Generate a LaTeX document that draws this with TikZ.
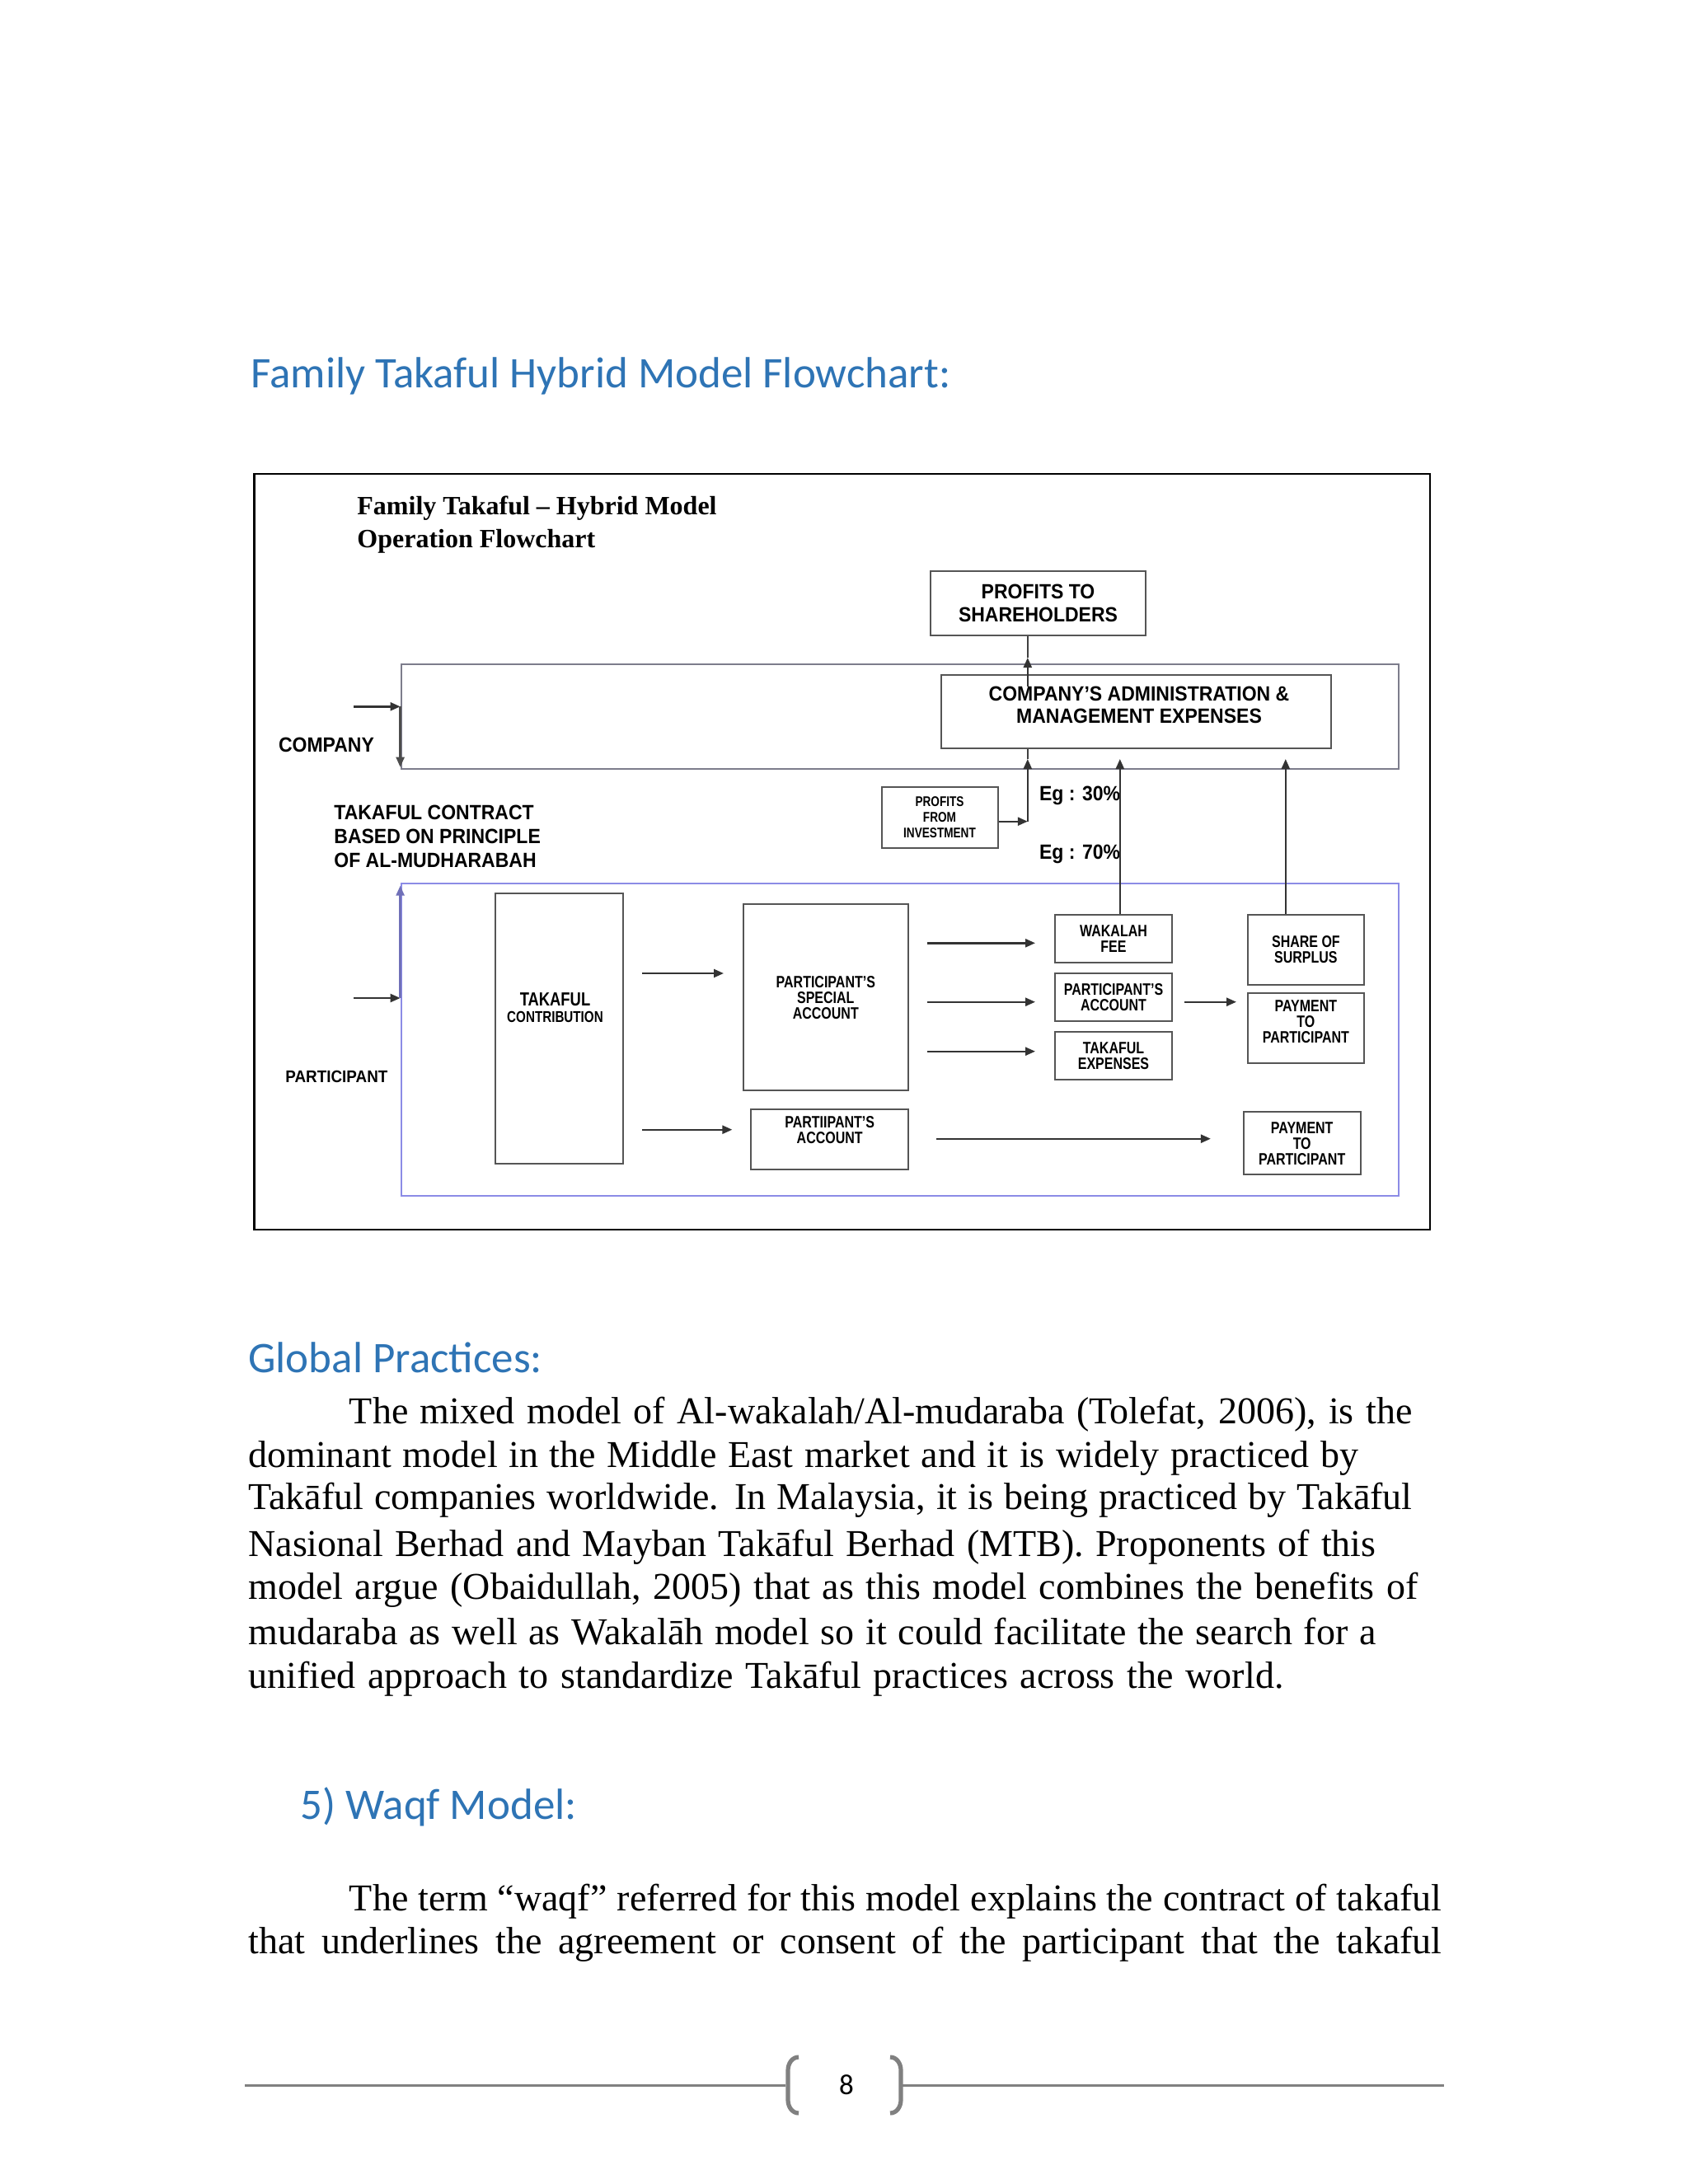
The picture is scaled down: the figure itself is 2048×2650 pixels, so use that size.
\documentclass[tikz,border=0pt]{standalone}
\usepackage{fontspec}
\setmainfont{Liberation Serif}
\newfontfamily\headfont{Carlito}
\newfontfamily\dfont{Liberation Sans}[FakeStretch=0.92]
\newfontfamily\sfont{Liberation Sans}[FakeStretch=0.8]
\usetikzlibrary{arrows.meta,calc}
\definecolor{headblue}{RGB}{46,116,181}
\definecolor{boxgray}{RGB}{85,85,85}
\definecolor{compgray}{RGB}{125,125,140}
\definecolor{partblue}{RGB}{140,140,230}
\definecolor{footgray}{RGB}{128,128,128}
\begin{document}
\begin{tikzpicture}[x=0.5pt,y=-0.5pt,
  box/.style={draw=boxgray,line width=1pt,rectangle,inner sep=0pt,align=center},
  big/.style={font=\dfont\bfseries\fontsize{12.5}{13.85}\selectfont,align=center,inner sep=0pt},
  small/.style={font=\sfont\bfseries\fontsize{10}{9.5}\selectfont,align=center},
  ar/.style={-{Triangle[length=6pt,width=5pt]},line width=1.2pt,draw=black!80},
  vl/.style={line width=1pt,draw=black!75},
  body/.style={anchor=base west,inner sep=0pt,font=\fontsize{23}{27}\selectfont},
  head/.style={anchor=base west,inner sep=0pt,font=\headfont\fontsize{26.5}{30}\selectfont,text=headblue},
]
\useasboundingbox (0,0) rectangle (2048,2650);
\fill[white] (0,0) rectangle (2048,2650);

% ---------- headings and text ----------
\node[head] (h1) at (304,470.7) {Family Takaful Hybrid Model Flowchart:};
\node[head] (h2) at (301,1665) {Global Practices:};
\node[head] (h3) at (364,2207) {5) Waqf Model:};

\node[body] (p1) at (423.5,1727.7) {\makebox[644.75pt][s]{The mixed model of Al-wakalah/Al-mudaraba (Tolefat, 2006), is the}};
\node[body] (p2) at (301,1780) {\makebox[673.5pt][s]{dominant model in the Middle East market and it is widely practiced by}};
\node[body] (p3) at (301,1831.7) {\makebox[706pt][s]{Takāful companies worldwide. In Malaysia, it is being practiced by Takāful}};
\node[body] (p4) at (301,1888.3) {\makebox[684pt][s]{Nasional Berhad and Mayban Takāful Berhad (MTB). Proponents of this}};
\node[body] (p5) at (301,1940) {\makebox[709.5pt][s]{model argue (Obaidullah, 2005) that as this model combines the benefits of}};
\node[body] (p6) at (301,1995) {\makebox[684pt][s]{mudaraba as well as Wakalāh model so it could facilitate the search for a}};
\node[body] (p7) at (301,2048.3) {\makebox[628pt][s]{unified approach to standardize Takāful practices across the world.}};

\node[body] (q1) at (423.5,2318) {\makebox[662.75pt][s]{The term “waqf” referred for this model explains the contract of takaful}};
\node[body] (q2) at (301,2370) {\makebox[724pt][s]{that underlines the agreement or consent of the participant that the takaful}};

% ---------- footer ----------
\draw[footgray,line width=1.5pt] (297,2530) -- (953,2530);
\draw[footgray,line width=1.5pt] (1095,2530) -- (1752,2530);
\draw[footgray,line width=2.6pt] (969,2496) to[out=180,in=90] (956,2512) -- (956,2548) to[out=-90,in=180] (969,2564);
\draw[footgray,line width=2.6pt] (1080,2496) to[out=0,in=90] (1093,2512) -- (1093,2548) to[out=-90,in=0] (1080,2564);
\node[font=\headfont\fontsize{17.5}{20}\selectfont,inner sep=0pt] (pg) at (1027,2530) {8};

% ---------- diagram ----------
\node[draw=black,line width=1.25pt,rectangle,minimum width=713.2pt,minimum height=458.5pt,inner sep=0pt] (outer) at (1021.8,1033.5) {};

\node[anchor=west,align=left,inner sep=0pt,font=\bfseries\fontsize{16}{20}\selectfont] (title) at (433,637) {Family Takaful – Hybrid Model\\Operation Flowchart};

\node[box,minimum width=130.5pt,minimum height=39.15pt,big] (pts) at (1259.5,731.85) {PROFITS TO\\SHAREHOLDERS};
\node[draw=compgray,line width=1pt,rectangle,inner sep=0pt,minimum width=605.2pt,minimum height=63.35pt] (comp) at (1091.8,869.35) {};
\node[box,minimum width=236.3pt,minimum height=44.5pt] (admin) at (1378.3,863.8) {};
\node[big] (adminT) at (1382,855.5) {COMPANY’S ADMINISTRATION \&\\MANAGEMENT EXPENSES};
\node[box,minimum width=70.5pt,minimum height=37.1pt,font=\sfont\bfseries\fontsize{8.5}{9.5}\selectfont] (pfi) at (1140,992) {PROFITS\\FROM\\INVESTMENT};

\node[big] (company) at (396,904.3) {COMPANY};
\node[big,anchor=west,align=left,font=\dfont\bfseries\fontsize{12.5}{14.3}\selectfont] (contract) at (405,1014.8) {TAKAFUL CONTRACT\\BASED ON PRINCIPLE\\OF AL-MUDHARABAH};
\node[big,font=\dfont\bfseries\fontsize{10.25}{12}\selectfont] (participant) at (408.4,1306.7) {PARTICIPANT};
\node[big,anchor=west] (eg30) at (1260.7,965) {Eg : 30\%};
\node[big,anchor=west] (eg70) at (1260.7,1036.7) {Eg : 70\%};

\node[draw=partblue,line width=1pt,rectangle,inner sep=0pt,minimum width=605.2pt,minimum height=189.65pt] (part) at (1091.8,1261.35) {};
\node[box,minimum width=77.5pt,minimum height=163.7pt] (contrib) at (678.9,1248) {};
\node[inner sep=0pt,align=center,font=\sfont\bfseries\fontsize{11.5}{10}\selectfont] (contribT) at (673.5,1222.7) {TAKAFUL\\{\fontsize{9.5}{9.5}\selectfont CONTRIBUTION}};
\node[box,minimum width=100.2pt,minimum height=113pt,small] (special) at (1001.8,1210.3) {PARTICIPANT’S\\SPECIAL\\ACCOUNT};
\node[box,minimum width=95.3pt,minimum height=36.65pt] (pacc) at (1006.7,1382.7) {};
\node[small,inner sep=0pt] (paccT) at (1006.7,1371) {PARTIIPANT’S\\ACCOUNT};
\node[box,minimum width=71pt,minimum height=28.85pt,small] (wak) at (1351,1138.9) {WAKALAH\\FEE};
\node[box,minimum width=71pt,minimum height=29pt,small] (pacc2) at (1351,1210) {PARTICIPANT’S\\ACCOUNT};
\node[box,minimum width=71pt,minimum height=29.15pt,small] (texp) at (1351,1280.9) {TAKAFUL\\EXPENSES};
\node[box,minimum width=70.1pt,minimum height=42.5pt,small] (share) at (1584.4,1152.5) {SHARE OF\\SURPLUS};
\node[box,minimum width=70.1pt,minimum height=42.5pt] (pay1) at (1584.4,1247.5) {};
\node[small,inner sep=0pt] (pay1T) at (1584.4,1239.5) {PAYMENT\\TO\\PARTICIPANT};
\node[box,minimum width=71.05pt,minimum height=37.85pt,small] (pay2) at (1579.7,1387.2) {PAYMENT\\TO\\PARTICIPANT};

% ---------- connectors ----------
% company input
\coordinate (cin) at (429,857.3);
\draw[ar] (cin) -- (cin -| comp.west);
\draw[ar,draw=black!70] (cin -| comp.west) -- ($(comp.south west)+(0,-3)$);
% participant input
\coordinate (pin) at (429,1211);
\draw[ar] (pin) -- (pin -| part.west);
\draw[ar,draw=partblue!80!black] (pin -| part.west) -- ($(part.north west)+(0,4)$);
% admin -> shareholders
\coordinate (xa) at (1246.8,833);
\draw[ar] (xa) -- (xa |- 0,798);
\draw[vl] (xa |- 0,798) -- (xa |- pts.south);
% profits from investment
\coordinate (pf) at (1246.8,996.7);
\draw[ar] (pfi.east |- pf) -- (pf);
\draw[ar] (pf) -- (pf |- 0,921);
\draw[vl] (pf |- 0,921) -- (pf |- admin.south);
% wakalah fee and share of surplus up to company
\coordinate (xw) at (1358.8,921);
\draw[ar] (xw |- wak.north) -- (xw);
\coordinate (xs) at (1559.8,921);
\draw[ar] (xs |- share.north) -- (xs);
% participant flows
\coordinate (a1s) at (779.3,1181);   \coordinate (a1e) at (878,1181);
\draw[ar] (a1s) -- (a1e);
\coordinate (a2s) at (779.3,1370.7); \coordinate (a2e) at (888.4,1370.7);
\draw[ar] (a2s) -- (a2e);
\coordinate (b1s) at (1125,1144.3);  \coordinate (b1e) at (1256,1144.3);
\draw[ar] (b1s) -- (b1e);
\coordinate (b2s) at (1125,1215.7);  \coordinate (b2e) at (1256,1215.7);
\draw[ar] (b2s) -- (b2e);
\coordinate (b3s) at (1125,1275.7);  \coordinate (b3e) at (1256,1275.7);
\draw[ar] (b3s) -- (b3e);
\coordinate (c1s) at (1436.8,1215.7); \coordinate (c1e) at (1500,1215.7);
\draw[ar] (c1s) -- (c1e);
\coordinate (d1s) at (1136.3,1381.7); \coordinate (d1e) at (1468.9,1381.7);
\draw[ar] (d1s) -- (d1e);
\end{tikzpicture}
\end{document}
